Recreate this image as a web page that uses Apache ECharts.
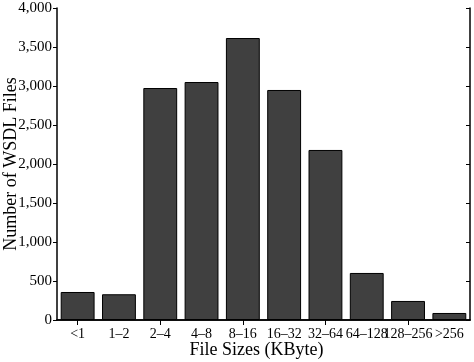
<!DOCTYPE html>
<html><head><meta charset="utf-8">
<script src="https://cdn.jsdelivr.net/npm/echarts@6/dist/echarts.min.js"></script>
<style>html,body{margin:0;padding:0;background:#fff}#c{width:474px;height:362px}</style>
</head><body><div id="c"></div>
<script>
const categories = ['<1','1–2','2–4','4–8','8–16','16–32','32–64','64–128','128–256','>256'];
const values = [359, 330, 2974, 3051, 3615, 2949, 2180, 603, 244, 90];
const yTicks = {min: 0, max: 4000, interval: 500};
const xTitle = 'File Sizes (KByte)';
const yTitle = 'Number of WSDL Files';

const font = 'Liberation Serif';
const chart = echarts.init(document.getElementById('c'));
const axLine = {show: true, lineStyle: {color: '#000', width: 1.5}};
chart.setOption({
  animation: false,
  grid: {left: 57, right: 4, top: 8, bottom: 42, containLabel: false, outerBoundsMode: 'none'},
  xAxis: [{
    type: 'category', data: categories, position: 'bottom',
    axisLine: axLine,
    axisTick: {show: false},
    axisLabel: {color: '#000', fontFamily: font, fontSize: 14, interval: 0, margin: 7},
    name: xTitle, nameLocation: 'middle', nameGap: 21, nameMoveOverlap: false,
    nameTextStyle: {color: '#000', fontFamily: font, fontSize: 18, verticalAlign: 'top', padding: [0, 14, 0, 0]}
  }, {
    type: 'category', data: categories, position: 'top',
    axisLine: axLine,
    axisTick: {show: true, inside: true, alignWithLabel: true, length: 5, lineStyle: {color: '#000'}},
    axisLabel: {show: false}
  }],
  yAxis: [{
    type: 'value', min: yTicks.min, max: yTicks.max, interval: yTicks.interval, position: 'left',
    axisLine: axLine,
    axisTick: {show: true, inside: false, length: 4, lineStyle: {color: '#000'}},
    splitLine: {show: false},
    axisLabel: {color: '#000', fontFamily: font, fontSize: 15, margin: 5,
      formatter: v => v.toLocaleString('en-US')},
    name: yTitle, nameLocation: 'middle', nameGap: 37, nameMoveOverlap: false,
    nameTextStyle: {color: '#000', fontFamily: font, fontSize: 18}
  }, {
    type: 'value', min: yTicks.min, max: yTicks.max, interval: yTicks.interval, position: 'right',
    axisLine: axLine,
    axisTick: {show: true, inside: true, length: 4, lineStyle: {color: '#000'}},
    splitLine: {show: false},
    axisLabel: {show: false}
  }],
  series: [{
    type: 'bar', data: values, barCategoryGap: '18%',
    itemStyle: {color: '#404040', borderColor: '#000', borderWidth: 1}
  }]
});
</script></body></html>
